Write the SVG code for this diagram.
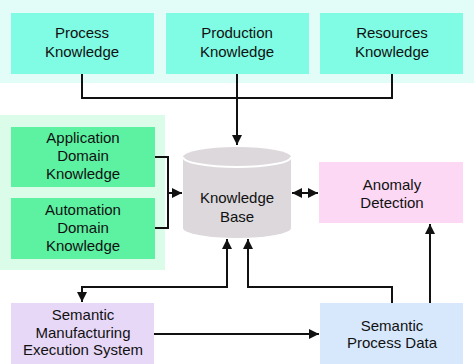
<svg xmlns="http://www.w3.org/2000/svg" width="474" height="364" viewBox="0 0 474 364">
<defs>
<style>
text{font-family:"Liberation Sans",Arial,sans-serif;font-size:15px;fill:#111;text-anchor:middle}
.ln{fill:none;stroke:#111;stroke-width:2}
.cy{fill:#80fce4}
.gr{fill:#5cf2a2}
</style>
<marker id="ah" viewBox="0 0 10 10" refX="10" refY="5" markerWidth="5.5" markerHeight="5" orient="auto-start-reverse" markerUnits="strokeWidth">
<path d="M0,0L10,5L0,10z" fill="#111"/>
</marker>
</defs>
<rect width="474" height="364" fill="#fff"/>
<rect x="0" y="0" width="474" height="83" fill="#e2fcf8"/>
<rect x="0" y="115" width="165" height="155" fill="#dafce8"/>
<g id="process">
<rect class="cy" x="11" y="13" width="143" height="61"/>
<text x="82" y="38">Process</text><text x="82" y="57">Knowledge</text>
</g>
<g id="production">
<rect class="cy" x="166" y="13" width="143" height="61"/>
<text x="237" y="38">Production</text><text x="237" y="57">Knowledge</text>
</g>
<g id="resources">
<rect class="cy" x="320" y="13" width="143" height="61"/>
<text x="392" y="38">Resources</text><text x="392" y="57">Knowledge</text>
</g>
<g id="application">
<rect class="gr" x="11" y="127" width="144" height="60"/>
<text x="83" y="143">Application</text><text x="83" y="161">Domain</text><text x="83" y="179">Knowledge</text>
</g>
<g id="automation">
<rect class="gr" x="11" y="198" width="144" height="61"/>
<text x="83" y="215">Automation</text><text x="83" y="233">Domain</text><text x="83" y="251">Knowledge</text>
</g>
<g id="kb">
<path d="M183,157 A54,10 0 0 1 291,157 L291,228 A54,10 0 0 1 183,228 Z" fill="#dcd8dc"/>
<path d="M183,157 A54,10 0 0 0 291,157" fill="none" stroke="#fff" stroke-width="2"/>
<text x="237" y="203">Knowledge</text><text x="237" y="222">Base</text>
</g>
<g id="anomaly">
<rect x="319" y="162" width="144" height="61" fill="#fcd8f4"/>
<text x="392" y="190">Anomaly</text><text x="392" y="208">Detection</text>
</g>
<g id="smes">
<rect x="11" y="303" width="143" height="61" fill="#e8d8f8"/>
<text x="83" y="320">Semantic</text><text x="83" y="338">Manufacturing</text><text x="83" y="355">Execution System</text>
</g>
<g id="spd">
<rect x="320" y="303" width="143" height="61" fill="#d8e8fc"/>
<text x="392" y="331">Semantic</text><text x="392" y="348">Process Data</text>
</g>
<g id="connectors">
<path class="ln" d="M82,74V98H392V74"/>
<path class="ln" d="M237,74V145" marker-end="url(#ah)"/>
<path class="ln" d="M155,157H168V228H155"/>
<path class="ln" d="M168,193H182" marker-end="url(#ah)"/>
<path class="ln" d="M292,193H318" marker-start="url(#ah)" marker-end="url(#ah)"/>
<path class="ln" d="M82,302V287H227V239" marker-start="url(#ah)" marker-end="url(#ah)"/>
<path class="ln" d="M392,303V287H248V239" marker-end="url(#ah)"/>
<path class="ln" d="M154,334H319" marker-end="url(#ah)"/>
<path class="ln" d="M430,303V224" marker-end="url(#ah)"/>
</g>
</svg>
